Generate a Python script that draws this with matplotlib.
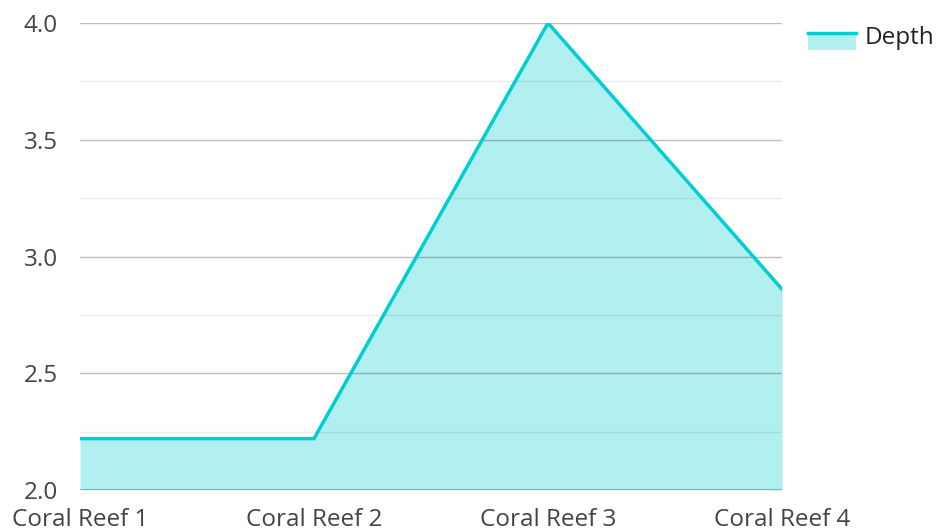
import matplotlib.pyplot as plt
from matplotlib.lines import Line2D
from matplotlib.patches import Patch, Rectangle
from matplotlib.legend_handler import HandlerBase
import numpy as np

plt.rcParams['font.family'] = ['Open Sans', 'DejaVu Sans']

reefs = ['Coral Reef 1', 'Coral Reef 2', 'Coral Reef 3', 'Coral Reef 4']
depth = [2.22, 2.22, 4.0, 2.86]

line_color = '#00CED1'
fill_color = '#B2EFF0'


class AreaHandler(HandlerBase):
    # filled box with the line along its top edge
    def create_artists(self, legend, orig_handle, xdescent, ydescent,
                       width, height, fontsize, trans):
        top = height * 0.75
        bottom = -ydescent - height * 0.5
        box = Rectangle((-xdescent, bottom), width, top - bottom,
                        facecolor=fill_color, edgecolor='none', transform=trans)
        ln = Line2D([-xdescent, -xdescent + width], [top, top],
                    color=line_color, lw=2.5, transform=trans)
        return [box, ln]


fig = plt.figure(figsize=(9.39, 5.31), dpi=100)
ax = fig.add_axes([80 / 939, 41 / 531, 702 / 939, 467 / 531])

x = np.arange(len(reefs))
ax.fill_between(x, 2.0, depth, color=fill_color, lw=0, zorder=1)
ax.plot(x, depth, color=line_color, lw=2.5, zorder=3, solid_joinstyle='miter')

ax.set_xlim(0, len(reefs) - 1)
ax.set_ylim(2.0, 4.0)

# major and minor horizontal grid, drawn over the fill
for v in np.arange(2.25, 4.0, 0.5):
    ax.axhline(v, color='#000000', alpha=0.08, lw=1, zorder=2)
for v in np.arange(2.5, 4.01, 0.5):
    ax.axhline(v, color='#000000', alpha=0.25, lw=1, zorder=2)
ax.axhline(2.0, color='#000000', alpha=0.25, lw=1.5, zorder=2)

ax.set_yticks([2.0, 2.5, 3.0, 3.5, 4.0])
ax.set_yticklabels(['2.0', '2.5', '3.0', '3.5', '4.0'])
ax.set_xticks(x)
ax.set_xticklabels(reefs)
ax.tick_params(axis='both', length=0, labelsize=17.5, labelcolor='#444444')
ax.tick_params(axis='y', pad=16)
ax.tick_params(axis='x', pad=13)
for s in ax.spines.values():
    s.set_visible(False)

fig.legend([Patch()], ['Depth'], handler_map={Patch: AreaHandler()},
           loc='upper left', bbox_to_anchor=(786 / 939, 1 - 4 / 531),
           frameon=False, fontsize=17.5, handlelength=2.0, handleheight=0.55,
           handletextpad=0.35, labelcolor='#222222')

fig.savefig('out.png', dpi=100)
